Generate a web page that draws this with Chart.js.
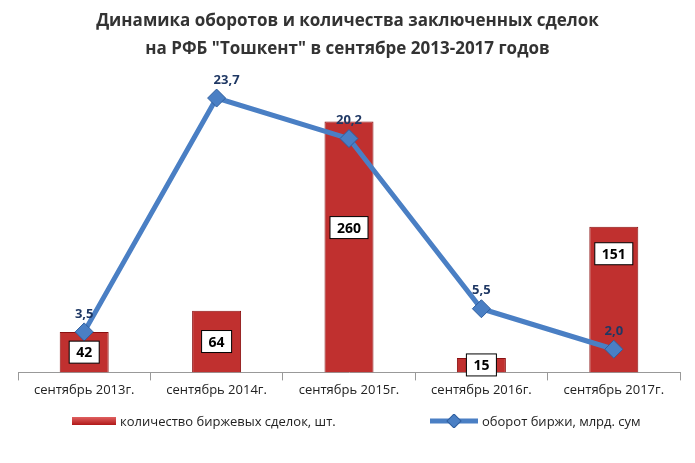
<!DOCTYPE html>
<html><head><meta charset="utf-8">
<script src="https://cdn.jsdelivr.net/npm/chart.js@4"></script>
<style>
body{margin:0;background:#fff;font-family:"Open Sans",sans-serif;}
#wrap{position:relative;width:695px;height:463px;}
#c{position:absolute;left:0;top:0;}
#title{position:absolute;top:6px;left:0;width:695px;text-align:center;font-weight:bold;font-size:17px;line-height:28px;color:#333;}
.leg{position:absolute;top:412px;font-size:13px;color:#222;display:flex;align-items:center;}
</style></head><body>
<div id="wrap">
<canvas id="c" width="695" height="463"></canvas>
<div id="title">Динамика оборотов и количества заключенных сделок<br>на РФБ "Тошкент" в сентябре 2013-2017 годов</div>
<div class="leg" style="left:72px"><span style="display:inline-block;width:44px;height:8px;background:linear-gradient(#e06060,#b01818);margin-right:4px"></span>количество биржевых сделок, шт.</div>
<div class="leg" style="left:430px"><svg width="48" height="14" style="margin-right:4px"><line x1="0" y1="7" x2="48" y2="7" stroke="#4a7fc4" stroke-width="5"/><rect x="19" y="2" width="10" height="10" transform="rotate(45 24 7)" fill="#4a7fc4" stroke="#2f5f9f"/></svg>оборот биржи, млрд. сум</div>
</div>
<script>
const categories=["сентябрь 2013г.","сентябрь 2014г.","сентябрь 2015г.","сентябрь 2016г.","сентябрь 2017г."];
const deals=[42,64,260,15,151];
const turnover=[3.5,23.7,20.2,5.5,2.0];
const turnoverLabels=["3,5","23,7","20,2","5,5","2,0"];

const labelPlugin={id:'lbl',afterDatasetsDraw(ch){
  const ctx=ch.ctx;ctx.save();
  ctx.font='bold 14px "Open Sans"';ctx.textAlign='center';ctx.textBaseline='middle';
  ch.getDatasetMeta(0).data.forEach((b,i)=>{
    const t=String(deals[i]);const w=ctx.measureText(t).width+14,h=22;
    let y=(b.y+b.base)/2; if(b.base-b.y>200) y=b.y+106; else if(b.base-b.y>100) y=b.y+27; else if(b.base-b.y<20) y=b.y+7;
    ctx.fillStyle='#fff';ctx.fillRect(b.x-w/2,y-h/2,w,h);ctx.strokeStyle='#000';ctx.lineWidth=1;ctx.strokeRect(b.x-w/2,y-h/2,w,h);
    ctx.fillStyle='#000';ctx.fillText(t,b.x,y+1);
  });
  ctx.fillStyle='#1f3864';ctx.font='bold 13px "Open Sans"';
  ch.getDatasetMeta(1).data.forEach((p,i)=>ctx.fillText(turnoverLabels[i],p.x+(i==1?10:0),p.y-18));
  ctx.restore();
}};
new Chart(document.getElementById('c'),{
  data:{labels:categories,datasets:[
    {type:'bar',data:deals,yAxisID:'y',order:2,barPercentage:0.37,categoryPercentage:1,
     backgroundColor(c){const b=c.element;if(!b||!isFinite(b.x))return '#c0302f';
       const g=c.chart.ctx.createLinearGradient(b.x-24,0,b.x+24,0);g.addColorStop(0,'#9e1414');g.addColorStop(0.5,'#e85a5a');g.addColorStop(1,'#9e1414');return g;},
     borderColor:'#8a1010',borderWidth:1},
    {type:'line',data:turnover,yAxisID:'y1',order:1,borderColor:'#4a7fc4',borderWidth:5,
     pointStyle:'rectRot',pointRadius:9,pointBackgroundColor:'#4a7fc4',pointBorderColor:'#2f5f9f',pointBorderWidth:1}
  ]},
  options:{responsive:false,animation:false,
    layout:{padding:{top:83,left:18,right:15,bottom:63}},
    plugins:{legend:{display:false},tooltip:{enabled:false}},
    scales:{
      x:{offset:true,grid:{offset:true,drawOnChartArea:false,tickLength:8,color:'#999'},border:{color:'#999'},
         ticks:{color:'#222',font:{size:13,family:'"Open Sans"'},padding:2}},
      y:{display:false,min:0,max:300},
      y1:{display:false,min:0,max:25}
    }},
  plugins:[labelPlugin]
});
</script></body></html>
